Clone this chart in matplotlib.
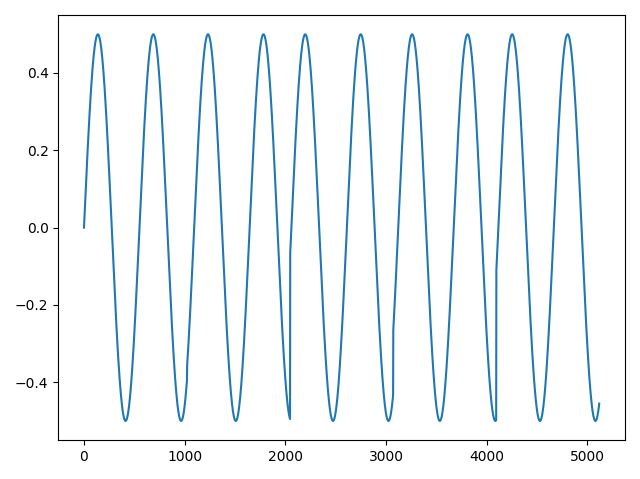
import numpy as np
import matplotlib
matplotlib.use("Agg")
import matplotlib.pyplot as plt

# Key points: sample index and value
# (start, peaks, troughs, and the chunk ends / restarts every 1024 samples)
knot_x = [0, 138, 413, 689, 965, 1023,
          1024, 1232, 1508, 1783, 2047,
          2048, 2198, 2474, 2749, 3025, 3071,
          3072, 3260, 3535, 3811, 4087, 4095,
          4096, 4254, 4530, 4805, 5081, 5119]
knot_y = [0.0, 0.5, -0.5, 0.5, -0.5, -0.395,
          -0.36, 0.5, -0.5, 0.5, -0.495,
          -0.07, 0.5, -0.5, 0.5, -0.5, -0.433,
          -0.27, 0.5, -0.5, 0.5, -0.5, -0.498,
          -0.115, 0.5, -0.5, 0.5, -0.5, -0.455]
amplitude = 0.5
n_samples = 5120

xs = np.arange(n_samples)
ys = np.zeros(n_samples)
for i in range(len(knot_x) - 1):
    x0, x1 = knot_x[i], knot_x[i + 1]
    a0 = np.arcsin(np.clip(knot_y[i] / amplitude, -1, 1))
    a1 = np.arcsin(np.clip(knot_y[i + 1] / amplitude, -1, 1))
    n = np.arange(x0, x1 + 1)
    t = (n - x0) / (x1 - x0)
    ys[x0:x1 + 1] = amplitude * np.sin(a0 + (a1 - a0) * t)

fig, ax = plt.subplots(figsize=(6.4, 4.79), dpi=100)
ax.plot(xs, ys)
fig.tight_layout()
fig.savefig("out.png", dpi=100)
